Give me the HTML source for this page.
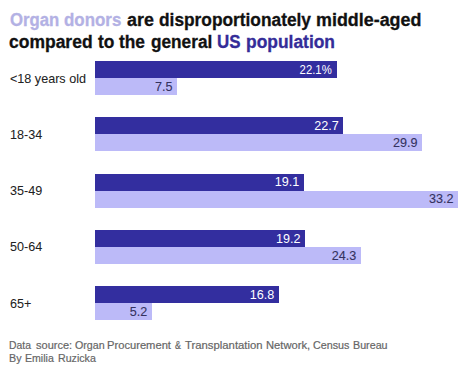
<!DOCTYPE html>
<html><head><meta charset="utf-8">
<style>
html,body{margin:0;padding:0;background:#fff;}
body{width:468px;height:373px;position:relative;overflow:hidden;font-family:"Liberation Sans",sans-serif;}
.tw{position:absolute;font-weight:bold;font-size:18px;line-height:22px;color:#111;white-space:nowrap;-webkit-text-stroke:0.3px;transform-origin:0 0;}
.tw.p1{color:#b3b1e4;}
.tw.p2{color:#342c98;}
.lab{position:absolute;left:10px;height:20px;line-height:20px;font-size:12.6px;color:#222;white-space:nowrap;-webkit-text-stroke:0.05px #222;}
.bar{position:absolute;left:95px;height:17.1px;}
.bar span{position:absolute;right:4.5px;top:0.8px;line-height:17.1px;font-size:12.6px;white-space:nowrap;}
.d{background:#332e9f;}
.d span{color:#fff;}
.pct{transform:scaleX(0.9);transform-origin:100% 50%;}
.l{background:#bcbaf8;}
.l span{color:#34325e;-webkit-text-stroke:0.1px #34325e;}
.fw{position:absolute;font-size:11.3px;line-height:13px;color:#666;white-space:nowrap;-webkit-text-stroke:0.2px #666;transform-origin:0 0;}
</style></head><body>
<span class="tw p1" style="top:9px;left:10.05px;transform:scaleX(0.9297)">Organ</span>
<span class="tw p1" style="top:9px;left:64.44px;transform:scaleX(0.9396)">donors</span>
<span class="tw " style="top:9px;left:127.2px;transform:scaleX(0.9923)">are</span>
<span class="tw " style="top:9px;left:159.03px;transform:scaleX(0.9618)">disproportionately</span>
<span class="tw " style="top:9px;left:316.21px;transform:scaleX(0.9942)">middle-aged</span>
<span class="tw " style="top:31px;left:9.32px;transform:scaleX(0.9715)">compared</span>
<span class="tw " style="top:31px;left:98.01px;transform:scaleX(0.9627)">to</span>
<span class="tw " style="top:31px;left:119.11px;transform:scaleX(0.9618)">the</span>
<span class="tw " style="top:31px;left:151.03px;transform:scaleX(0.9565)">general</span>
<span class="tw p2" style="top:31px;left:217.27px;transform:scaleX(0.9397)">US</span>
<span class="tw p2" style="top:31px;left:245.74px;transform:scaleX(0.9677)">population</span>
<div class="lab" style="top:68.60px">&lt;18 years old</div>
<div class="bar d" style="top:61.00px;width:241.64px"><span class=pct>22.1%</span></div>
<div class="bar l" style="top:78.10px;width:82.00px"><span>7.5</span></div>
<div class="lab" style="top:124.88px">18-34</div>
<div class="bar d" style="top:117.28px;width:248.20px"><span>22.7</span></div>
<div class="bar l" style="top:134.38px;width:326.92px"><span>29.9</span></div>
<div class="lab" style="top:181.16px">35-49</div>
<div class="bar d" style="top:173.56px;width:208.83px"><span>19.1</span></div>
<div class="bar l" style="top:190.66px;width:363.00px"><span>33.2</span></div>
<div class="lab" style="top:237.44px">50-64</div>
<div class="bar d" style="top:229.84px;width:209.93px"><span>19.2</span></div>
<div class="bar l" style="top:246.94px;width:265.69px"><span>24.3</span></div>
<div class="lab" style="top:293.72px">65+</div>
<div class="bar d" style="top:286.12px;width:183.69px"><span>16.8</span></div>
<div class="bar l" style="top:303.22px;width:56.86px"><span>5.2</span></div>
<span class="fw" style="top:338.8px;left:9.47px;transform:scaleX(0.9174)">Data</span>
<span class="fw" style="top:338.8px;left:35.61px;transform:scaleX(0.9748)">source:</span>
<span class="fw" style="top:338.8px;left:74.93px;transform:scaleX(0.9437)">Organ</span>
<span class="fw" style="top:338.8px;left:107.41px;transform:scaleX(0.989)">Procurement</span>
<span class="fw" style="top:338.8px;left:175.49px;transform:scaleX(0.7857)">&amp;</span>
<span class="fw" style="top:338.8px;left:184.8px;transform:scaleX(1.0013)">Transplantation</span>
<span class="fw" style="top:338.8px;left:265.51px;transform:scaleX(0.9906)">Network,</span>
<span class="fw" style="top:338.8px;left:312.72px;transform:scaleX(0.952)">Census</span>
<span class="fw" style="top:338.8px;left:352.55px;transform:scaleX(0.9484)">Bureau</span>
<span class="fw" style="top:351.8px;left:8.84px;transform:scaleX(0.9508)">By</span>
<span class="fw" style="top:351.8px;left:25.36px;transform:scaleX(0.9365)">Emilia</span>
<span class="fw" style="top:351.8px;left:58.25px;transform:scaleX(0.9415)">Ruzicka</span>
</body></html>
